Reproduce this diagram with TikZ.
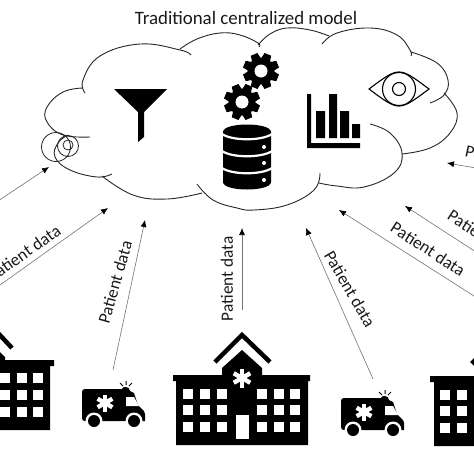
\documentclass[tikz,border=0pt]{standalone}
\usepackage{fontspec}
\setmainfont{Carlito}
\usetikzlibrary{arrows.meta}
\tikzset{
  cloudline/.style={line width=0.9pt,draw=black!85,smooth,tension=0.7},
  flow/.style={draw=black!55,line width=0.6pt,-{Latex[black,length=7pt,width=6pt]}},
  dlabel/.style={font=\fontsize{17.3}{18}\selectfont,inner sep=0pt,text=black!90}
}
\newcommand{\asterisk}[3]{%
  \foreach \a in {0,60,120}{\fill[white,rotate around={\a+90:(#1,#2)}] (#1-#3,#2-2.2) rectangle (#1+#3,#2+2.2);}}
\newcommand{\gearicon}[2]{%
  \fill[black] (#1,#2) circle (13.5);
  \foreach \a in {0,45,...,315}{\fill[black,rotate around={\a+22.5:(#1,#2)}] (#1-3.6,#2-18) -- (#1+3.6,#2-18) -- (#1+5,#2-10) -- (#1-5,#2-10) -- cycle;}
  \fill[white] (#1,#2) circle (6.5);}
\newcommand{\winrow}[3]{% xlist y
  \foreach \wx in {#1}{\foreach \wy in {#2}{\fill[white] (\wx,\wy) rectangle ++(10,#3);}}}
\newcommand{\ambulance}[2]{%
\begin{scope}[shift={(#1,#2)}]
  \fill[black] (85,389) -- (122,389) .. controls (122,386) and (130,386) .. (130,391) -- (134,393) -- (138,405) -- (144,411) -- (145,414) -- (145,421) -- (85,421) .. controls (83,421) and (82,420) .. (82,418) -- (82,392) .. controls (82,390) and (83,389) .. (85,389) -- cycle;
  \fill[white] (126,397) -- (134,397) -- (139,406) -- (126,406) -- cycle;
  \fill[white] (94,421) circle (8.5) (134,421) circle (8.5);
  \fill[black] (94,421) circle (6) (134,421) circle (6);
  \asterisk{105}{403}{8.5}
  \draw[black,line width=1pt] (126,385) -- (126,381) (120,383) -- (123,386) (132,383) -- (129,386);
\end{scope}}
\begin{document}
\begin{tikzpicture}[x=1pt,y=-1pt]
\useasboundingbox (0,0) rectangle (474,474);
\clip (0,0) rectangle (474,474);
\node[font=\fontsize{18.9}{20}\selectfont,inner sep=0pt,text=black!90] (title) at (246,18) {Traditional centralized model};
% cloud
\draw[cloudline] plot coordinates {(85,93) (83,80) (100,56) (140,44) (180,50) (191,55)};
\draw[cloudline] plot coordinates {(180,49) (197,39) (220,33) (240,35) (258,43) (259,47)};
\draw[cloudline] plot coordinates {(258,45) (270,34) (287,28) (310,30) (329,36)};
\draw[cloudline] plot coordinates {(322,44) (337,33) (370,28) (397,35) (410,50) (411,56)};
\draw[cloudline] plot coordinates {(411,52) (437,63) (448,80) (444,95) (430,103)};
\draw[cloudline] plot coordinates {(444,93) (457,113) (450,133) (430,148) (402,154)};
\draw[cloudline] plot coordinates {(370,124) (390,133) (402,153) (394,173) (364,187) (337,186) (319,183)};
\draw[cloudline] plot coordinates {(320,173) (314,190) (287,205) (254,210) (237,208) (213,200) (197,184)};
\draw[cloudline] plot coordinates {(202,193) (167,199) (133,195) (102,176)};
\draw[cloudline] plot coordinates {(112,174) (97,177) (70,170) (55,157) (58,143) (68,135)};
\draw[cloudline] plot coordinates {(90,137) (63,135) (47,122) (47,107) (63,92) (83,88)};
\draw[line width=0.8pt,black!85] (56,147) circle (14.5) (68,146) circle (10.5) (68,145) circle (5);
% funnel
\fill[black] (114,89) -- (167,89) -- (144,112) -- (144,137) -- (138,142) -- (138,112) -- cycle;
% gears
\gearicon{261}{71}
\gearicon{242}{102}
% database
\fill[black] (223,132) .. controls (223,122) and (271,122) .. (271,132) -- (271,182) .. controls (271,192) and (223,192) .. (223,182) -- cycle;
\foreach \yy in {134,151,168}{\draw[white,line width=2.2pt] (222,\yy) .. controls (232,\yy+7) and (262,\yy+7) .. (272,\yy);}
\fill[white] (264,147) circle (2) (264,163) circle (2) (264,180) circle (2);
% chart
\fill[black] (307,94) rectangle (311,148) (307,143) rectangle (360,148);
\fill[black] (316,111) rectangle (325,138) (329,94) rectangle (337,138) (340,111) rectangle (349,138) (352,124) rectangle (360,138);
% eye
\draw[black,line width=1.1pt] (369,89) .. controls (385,77) and (392,72) .. (399,72) .. controls (406,72) and (413,77) .. (429,89) .. controls (413,101) and (406,106) .. (399,106) .. controls (392,106) and (385,101) .. (369,89) -- cycle;
\draw[black,line width=1.1pt] (399,89) circle (16.5) (399,89) circle (6.5);
% buildings
\fill[black] (173,375) rectangle (310,381) (176,381) rectangle (308,445);
\fill[black] (222,376) -- (222,368) -- (242,350) -- (262,368) -- (262,376) -- cycle;
\draw[black,line width=4.5pt] (215,362) -- (242,335) -- (270,362);
\winrow{183,200,217,257,274,290}{389,405,422}{10}
\asterisk{242}{378}{9.5}
\fill[white] (236,415) rectangle (249,439);
% left building
\fill[black] (0,360) rectangle (54,366) (0,366) rectangle (50,430);
\fill[black] (0,352) -- (5,357) -- (5,360) -- (0,360) -- cycle;
\draw[black,line width=4.5pt] (-3,332) -- (12,348);
\winrow{0,17,33}{373,390,407}{10}
% right building
\fill[black] (430,376) rectangle (474,382) (434,382) rectangle (474,446);
\winrow{440,457}{390,406,423}{10}
\fill[black] (470,362) -- (474,358) -- (474,366) -- cycle;
% ambulances
\ambulance{0}{0}
\ambulance{259}{9}
% arrows
\coordinate (s1) at (-2,201); \coordinate (t1) at (49,167);
\coordinate (s2) at (0,285); \coordinate (t2) at (108,208);
\coordinate (s3) at (113,370); \coordinate (t3) at (145,220);
\coordinate (s4) at (242,310); \coordinate (t4) at (242,228);
\coordinate (s5) at (373,379); \coordinate (t5) at (306,228);
\coordinate (s6) at (474,296); \coordinate (t6) at (339,210);
\coordinate (s7) at (476,252); \coordinate (t7) at (405,206);
\coordinate (s8) at (476,168); \coordinate (t8) at (447,163);
\foreach \i in {1,...,8}{\draw[flow] (s\i) -- (t\i);}
% labels
\node[dlabel,rotate=35] (l2) at (24,253) {Patient data};
\node[dlabel,rotate=74] (l3) at (115,282) {Patient data};
\node[dlabel,rotate=90] (l4) at (227,279) {Patient data};
\node[dlabel,rotate=-60] (l5) at (350,289) {Patient data};
\node[dlabel,rotate=-33] (l6) at (428,249) {Patient data};
\node[dlabel,rotate=-33] (l7) at (485,237) {Patient data};
\node[dlabel,rotate=-12] (l8) at (507,159) {Patient data};
\end{tikzpicture}
\end{document}
